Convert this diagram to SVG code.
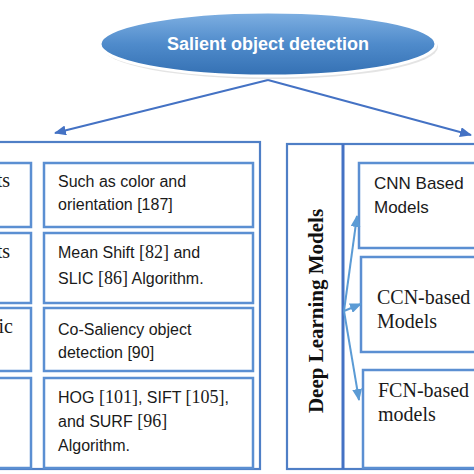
<svg xmlns="http://www.w3.org/2000/svg" width="474" height="474" viewBox="0 0 474 474">
<style>
.box{fill:#fff;stroke:#5b8fd2;stroke-width:2.5}
.panel{fill:#fff;stroke:#4f7fc6;stroke-width:2.2}
.sans{font-family:"Liberation Sans",Arial,sans-serif;font-size:16px;fill:#1a1a1a}
.sansL{font-family:"Liberation Sans",Arial,sans-serif;font-size:17px;fill:#1a1a1a}
.serif{font-family:"Liberation Serif","Times New Roman",serif;font-size:20px;fill:#1a1a1a}
.ser{font-family:"Liberation Serif","Times New Roman",serif;font-size:18px}
.conn{stroke:#4472c4;stroke-width:2;fill:none}
.conn2{stroke:#5b9bd5;stroke-width:2;fill:none}
</style>
<defs>
<linearGradient id="eg" x1="0" y1="0" x2="0" y2="1">
<stop offset="0" stop-color="#7fb0e2"/>
<stop offset="0.5" stop-color="#4f8bcb"/>
<stop offset="1" stop-color="#3470b3"/>
</linearGradient>
<marker id="ah" markerWidth="12" markerHeight="10" refX="11" refY="5" orient="auto" markerUnits="userSpaceOnUse">
<path d="M0,0 L12,5 L0,10 Z" fill="#4472c4"/>
</marker>
<marker id="ah2" markerWidth="12" markerHeight="10" refX="11" refY="5" orient="auto" markerUnits="userSpaceOnUse">
<path d="M0,0 L12,5 L0,10 Z" fill="#5b9bd5"/>
</marker>
</defs>
<rect width="474" height="474" fill="#fff"/>

<g id="root">
<ellipse cx="270" cy="47" rx="168" ry="32" fill="#d9d9d9" opacity="0.7"/>
<ellipse cx="268" cy="44" rx="168" ry="32" fill="url(#eg)" stroke="#fff" stroke-width="3"/>
<text x="268" y="50" text-anchor="middle" font-family="'Liberation Sans',Arial,sans-serif" font-size="18" font-weight="bold" fill="#fff">Salient object detection</text>
</g>

<g id="left-panel">
<rect class="panel" x="-60" y="142" width="320" height="327"/>
</g>
<g id="left-col-1"><rect class="box" x="-40" y="163" width="71" height="64"/><text class="serif" x="10" y="187" text-anchor="end">ts</text></g>
<g id="left-col-2"><rect class="box" x="-40" y="233" width="71" height="70"/><text class="serif" x="10" y="258" text-anchor="end">ts</text></g>
<g id="left-col-3"><rect class="box" x="-40" y="308" width="71" height="63"/><text class="serif" x="13" y="333" text-anchor="end">ic</text></g>
<g id="left-col-4"><rect class="box" x="-40" y="378" width="71" height="90"/></g>

<g id="feat-1"><rect class="box" x="44" y="163" width="209" height="64"/>
<text class="sans" x="58" y="187">Such as color and</text>
<text class="sans" x="58" y="210">orientation [187]</text></g>
<g id="feat-2"><rect class="box" x="44" y="233" width="209" height="70"/>
<text class="sans" x="58" y="258">Mean Shift <tspan class="ser">[82]</tspan> and</text>
<text class="sans" x="58" y="284">SLIC <tspan class="ser">[86]</tspan> Algorithm.</text></g>
<g id="feat-3"><rect class="box" x="44" y="308" width="209" height="63"/>
<text class="sans" x="58" y="335">Co-Saliency object</text>
<text class="sans" x="58" y="358">detection [90]</text></g>
<g id="feat-4"><rect class="box" x="44" y="378" width="209" height="90"/>
<text class="sans" x="58" y="403">HOG <tspan class="ser">[101]</tspan>, SIFT <tspan class="ser">[105]</tspan>,</text>
<text class="sans" x="58" y="427">and SURF <tspan class="ser">[96]</tspan></text>
<text class="sans" x="58" y="451">Algorithm.</text></g>

<g id="deep-learning">
<rect class="panel" x="287" y="144" width="240" height="325"/>
<line x1="343" y1="144" x2="343" y2="469" stroke="#4472c4" stroke-width="3"/>
<text transform="translate(323,311) rotate(-90)" text-anchor="middle" font-family="'Liberation Serif','Times New Roman',serif" font-size="21" font-weight="bold" fill="#111">Deep Learning Models</text>
</g>
<g id="cnn"><rect class="box" x="359" y="163" width="140" height="85"/>
<text class="sansL" x="374" y="189">CNN Based</text>
<text class="sansL" x="374" y="213">Models</text></g>
<g id="ccn"><rect class="box" x="361" y="257" width="140" height="95"/>
<text class="serif" x="377" y="304">CCN-based</text>
<text class="serif" x="377" y="328">Models</text></g>
<g id="fcn"><rect class="box" x="363" y="370" width="140" height="98"/>
<text class="serif" x="378" y="397">FCN-based</text>
<text class="serif" x="378" y="421">models</text></g>

<g id="connectors">
<line class="conn" x1="268" y1="80" x2="55" y2="133" marker-end="url(#ah)"/>
<line class="conn" x1="268" y1="80" x2="471" y2="135" marker-end="url(#ah)"/>
<line class="conn2" x1="344" y1="311" x2="357" y2="216" marker-end="url(#ah2)"/>
<line class="conn2" x1="344" y1="311" x2="361" y2="304" marker-end="url(#ah2)"/>
<line class="conn2" x1="344" y1="311" x2="359" y2="400" marker-end="url(#ah2)"/>
</g>
</svg>
